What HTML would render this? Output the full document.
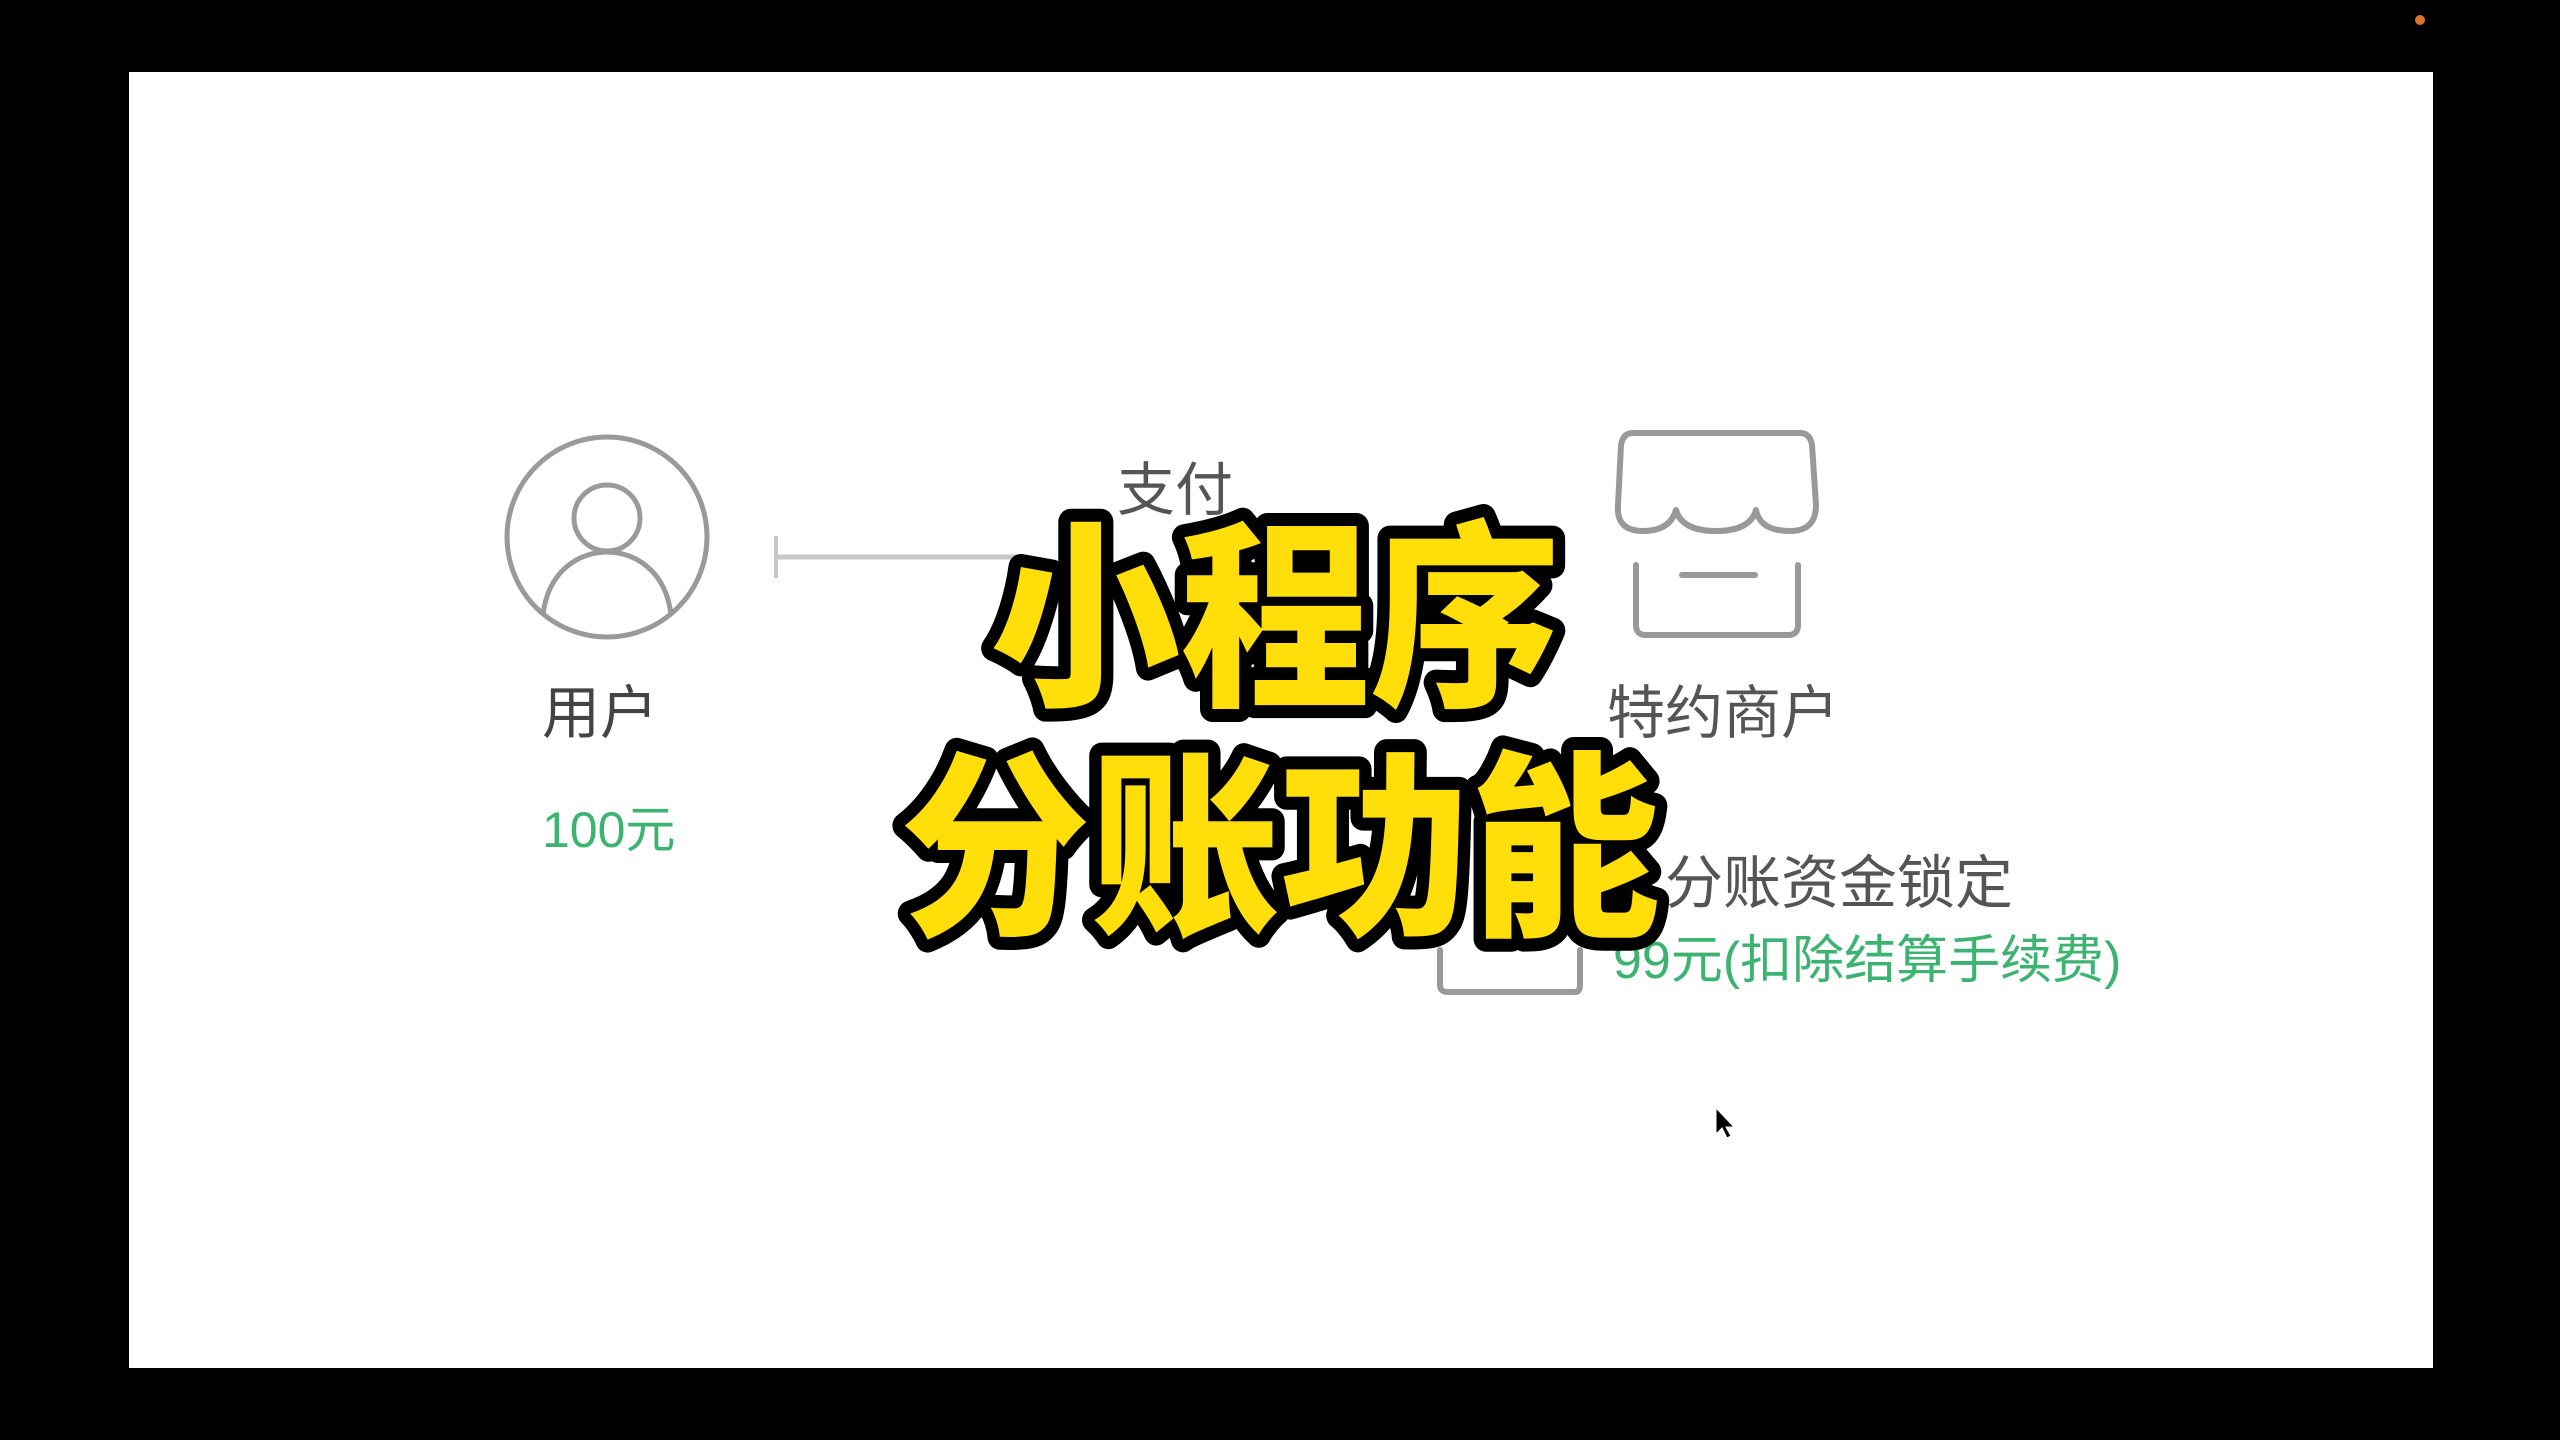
<!DOCTYPE html>
<html><head><meta charset="utf-8"><style>
html,body{margin:0;padding:0;background:#000;}
svg{display:block;}
</style></head><body>
<svg width="2560" height="1440" viewBox="0 0 2560 1440" xmlns="http://www.w3.org/2000/svg">
<rect width="2560" height="1440" fill="#000"/>
<circle cx="2420" cy="20" r="5" fill="#d9752b"/>
<rect x="129" y="72" width="2304" height="1296" fill="#fff"/>
<g fill="none" stroke="#9a9a9a" stroke-width="5">
<circle cx="607" cy="537" r="100"/>
<circle cx="607" cy="518" r="33"/>
<path d="M543 615 C548 570 580 552 607 552 C634 552 666 570 671 615"/>
</g>
<g font-family="'Liberation Sans','Noto Sans CJK SC',sans-serif">
<text x="542" y="733" font-size="58" fill="#444">用户</text>
<text x="542" y="847" font-size="50" fill="#3cb371">100元</text>
<text x="1117" y="510" font-size="58" fill="#555">支付</text>
<text x="1607" y="733" font-size="58" fill="#555">特约商户</text>
<text x="1665" y="903" font-size="58" fill="#555">分账资金锁定</text>
<text x="1613" y="978" font-size="52" fill="#3cb371">99元(扣除结算手续费)</text>
</g>
<line x1="774" y1="557" x2="1020" y2="557" stroke="#c8c8c8" stroke-width="5"/>
<line x1="776" y1="536" x2="776" y2="578" stroke="#c8c8c8" stroke-width="4"/>
<g fill="none" stroke="#999" stroke-width="6" stroke-linecap="round" stroke-linejoin="round">
<path d="M1633 433 L1800 433 Q1810 433 1812 445 L1816 505 Q1816 531 1790 531 Q1760 531 1756 510 Q1750 531 1716 531 Q1682 531 1676 510 Q1670 531 1643 531 Q1616 531 1618 505 L1621 445 Q1623 433 1633 433 Z"/>
<path d="M1636 565 L1636 625 Q1636 635 1646 635 L1788 635 Q1798 635 1798 625 L1798 565"/>
<line x1="1682" y1="575" x2="1755" y2="575"/>
<path d="M1440 950 L1440 985 Q1440 992 1448 992 L1575 992 Q1580 992 1580 985 L1580 950"/>
</g>
<path d="M1716 1108 L1716 1134 L1722 1128 L1727 1138 L1731 1136 L1726 1127 L1734 1127 Z" fill="#000" stroke="#fff" stroke-width="1"/>
<g transform="translate(1280 0) scale(0.95 1) translate(-1280 0)" font-family="'Noto Sans CJK SC','WenQuanYi Zen Hei',sans-serif" font-weight="900" text-anchor="middle" fill="#ffde0a" stroke="#000" stroke-width="26" stroke-linejoin="round" paint-order="stroke">
<text x="1275" y="690" font-size="200">小程序</text>
<text x="1280" y="920" font-size="200">分账功能</text>
</g>
</svg>
</body></html>
